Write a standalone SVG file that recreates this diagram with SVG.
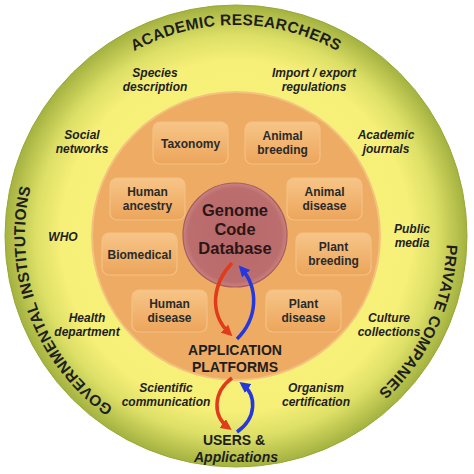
<svg xmlns="http://www.w3.org/2000/svg" width="474" height="474" viewBox="0 0 474 474">
<defs>
<radialGradient id="gOuter" cx="236" cy="236" r="231" gradientUnits="userSpaceOnUse">
<stop offset="0" stop-color="#fbf47c"/>
<stop offset="0.76" stop-color="#f6ef78"/>
<stop offset="0.87" stop-color="#dcdf66"/>
<stop offset="1" stop-color="#a4b240"/>
</radialGradient>
<linearGradient id="gBox" x1="0" y1="0" x2="0" y2="1">
<stop offset="0" stop-color="#f7c587"/>
<stop offset="1" stop-color="#eca55c"/>
</linearGradient>
<radialGradient id="gGenome" cx="0.5" cy="0.5" r="0.5">
<stop offset="0" stop-color="#b7686a"/>
<stop offset="0.9" stop-color="#bc6e6e"/>
<stop offset="1" stop-color="#c98282"/>
</radialGradient>
<marker id="mRed" viewBox="0 0 10 10" refX="7" refY="5" markerWidth="11" markerHeight="11" markerUnits="userSpaceOnUse" orient="auto">
<path d="M0,0 L10,5 L0,10 z" fill="#e03c1c"/>
</marker>
<marker id="mBlue" viewBox="0 0 10 10" refX="7" refY="5" markerWidth="11" markerHeight="11" markerUnits="userSpaceOnUse" orient="auto">
<path d="M0,0 L10,5 L0,10 z" fill="#2438de"/>
</marker>
<path id="arcTop" d="M 28.2 199.4 A 211 211 0 0 1 443.8 199.4"/>
<path id="arcLeft" d="M 274.4 443.5 A 211 211 0 0 1 128.9 54.2"/>
<path id="arcRight" d="M 357 63.2 A 211 211 0 0 1 181.4 439.8"/>
</defs>
<style>
text{font-family:"Liberation Sans",Arial,Helvetica,sans-serif;fill:#1e1e1e;text-anchor:middle}
.ring{font-size:15.5px;font-weight:bold;letter-spacing:0.3px}
.lab{font-size:12px;font-weight:bold;font-style:italic}
.box rect{fill:url(#gBox);stroke:#f4c184;stroke-width:1.2}
.box text{font-size:12px;font-weight:bold;fill:#2a2a2a}
.core{font-size:16.5px;font-weight:bold;fill:#2a1616}
.plat{font-size:14px;font-weight:bold}
.red{fill:none;stroke:#e03c1c;stroke-width:3.5;marker-end:url(#mRed)}
.blue{fill:none;stroke:#2438de;stroke-width:3.5;marker-end:url(#mBlue)}
</style>

<g id="outer-ring">
<circle cx="236" cy="236" r="231" fill="url(#gOuter)" stroke="#9aa83a" stroke-width="1"/>
<text class="ring"><textPath href="#arcTop" startOffset="50%">ACADEMIC RESEARCHERS</textPath></text>
<text class="ring"><textPath href="#arcLeft" startOffset="50%">GOVERNMENTAL INSTITUTIONS</textPath></text>
<text class="ring"><textPath href="#arcRight" startOffset="50%">PRIVATE COMPANIES</textPath></text>
</g>

<g id="ring-labels">
<text class="lab" x="155" y="77">Species<tspan x="155" y="91">description</tspan></text>
<text class="lab" x="314" y="77">Import / export<tspan x="314" y="91">regulations</tspan></text>
<text class="lab" x="82" y="139">Social<tspan x="82" y="153">networks</tspan></text>
<text class="lab" x="386" y="139">Academic<tspan x="386" y="153">journals</tspan></text>
<text class="lab" x="63" y="241">WHO</text>
<text class="lab" x="412" y="233">Public<tspan x="412" y="247">media</tspan></text>
<text class="lab" x="87" y="322">Health<tspan x="87" y="336">department</tspan></text>
<text class="lab" x="389" y="322">Culture<tspan x="389" y="336">collections</tspan></text>
<text class="lab" x="166" y="392">Scientific<tspan x="166" y="406">communication</tspan></text>
<text class="lab" x="316" y="392">Organism<tspan x="316" y="406">certification</tspan></text>
</g>

<g id="application-platforms">
<circle cx="236" cy="236" r="144" fill="#eeab64" stroke="#f4c27e" stroke-width="2"/>
<text class="plat" x="235" y="355">APPLICATION</text>
<text class="plat" x="235" y="372">PLATFORMS</text>
</g>

<g id="taxonomy" class="box"><rect x="153" y="122" width="75" height="42" rx="7"/><text x="190.5" y="148">Taxonomy</text></g>
<g id="animal-breeding" class="box"><rect x="245" y="122" width="75" height="42" rx="7"/><text x="282.5" y="140">Animal</text><text x="282.5" y="154">breeding</text></g>
<g id="human-ancestry" class="box"><rect x="110" y="178" width="75" height="42" rx="7"/><text x="147.5" y="196">Human</text><text x="147.5" y="210">ancestry</text></g>
<g id="animal-disease" class="box"><rect x="287" y="178" width="75" height="42" rx="7"/><text x="324.5" y="196">Animal</text><text x="324.5" y="210">disease</text></g>
<g id="biomedical" class="box"><rect x="102" y="233" width="75" height="42" rx="7"/><text x="139.5" y="259">Biomedical</text></g>
<g id="plant-breeding" class="box"><rect x="296" y="233" width="75" height="42" rx="7"/><text x="333.5" y="251">Plant</text><text x="333.5" y="265">breeding</text></g>
<g id="human-disease" class="box"><rect x="132" y="290" width="75" height="42" rx="7"/><text x="169.5" y="308">Human</text><text x="169.5" y="322">disease</text></g>
<g id="plant-disease" class="box"><rect x="266" y="290" width="75" height="42" rx="7"/><text x="303.5" y="308">Plant</text><text x="303.5" y="322">disease</text></g>

<g id="genome-code-database">
<circle cx="235" cy="235" r="52" fill="url(#gGenome)" stroke="#a95c5c" stroke-width="1.2"/>
<text class="core" x="235" y="216">Genome</text>
<text class="core" x="235" y="235">Code</text>
<text class="core" x="235" y="254">Database</text>
</g>

<g id="users-applications">
<text class="plat" x="234" y="445">USERS &amp;</text>
<text class="plat" x="236" y="462" font-style="italic">Applications</text>
</g>

<g id="connectors">
<path class="red" d="M232,263 C213,283 208,313 230,334"/>
<path class="blue" d="M237,339 C258,318 259,288 241,268"/>
<path class="red" d="M232,378 C213,392 212,416 229,428"/>
<path class="blue" d="M237,432 C257,418 257,395 242,384"/>
</g>
</svg>
